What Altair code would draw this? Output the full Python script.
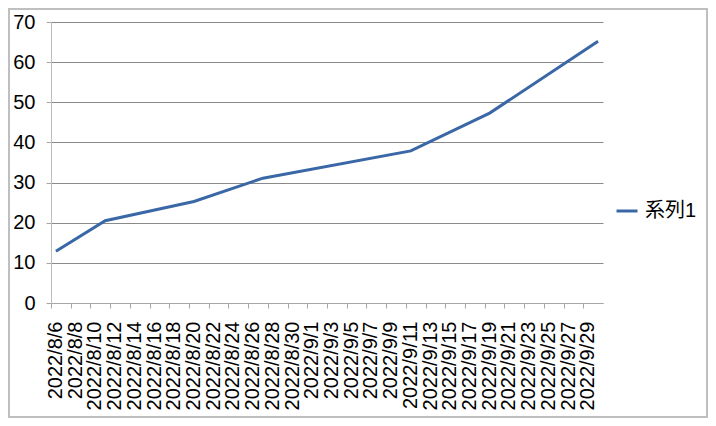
import altair as alt
import pandas as pd

# ---- data ----
dates = ["2022-08-06", "2022-08-11", "2022-08-20", "2022-08-27",
         "2022-09-11", "2022-09-19", "2022-09-30"]
values = [12.9, 20.5, 25.3, 31.1, 37.9, 47.3, 65.2]
series_name = "系列1"

tick_dates = ["2022-08-06", "2022-08-08", "2022-08-10", "2022-08-12", "2022-08-14",
              "2022-08-16", "2022-08-18", "2022-08-20", "2022-08-22", "2022-08-24",
              "2022-08-26", "2022-08-28", "2022-08-30", "2022-09-01", "2022-09-03",
              "2022-09-05", "2022-09-07", "2022-09-09", "2022-09-11", "2022-09-13",
              "2022-09-15", "2022-09-17", "2022-09-19", "2022-09-21", "2022-09-23",
              "2022-09-25", "2022-09-27", "2022-09-29"]
axis_range = ["2022-08-06", "2022-10-01"]
y_ticks = [0, 10, 20, 30, 40, 50, 60, 70]


def to_dt(s):
    y, m, d = (int(p) for p in s.split("-"))
    return alt.DateTime(year=y, month=m, date=d)


df = pd.DataFrame({
    "date": [d + "T12:00:00" for d in dates],  # centre of each day slot
    "value": values,
    "series": [series_name] * len(values),
})

FONT = "Liberation Sans"
W, H = 552, 281
PAD = {"left": 43, "top": 14, "right": 105, "bottom": 115}

line = alt.Chart(df).mark_line(strokeWidth=3).encode(
    x=alt.X(
        "date:T",
        title=None,
        scale=alt.Scale(type="time", domain=[to_dt(s) for s in axis_range], nice=False),
        axis=alt.Axis(
            values=[to_dt(s) for s in tick_dates],
            format="%Y/%-m/%-d",
            labelAngle=270,
            labelAlign="right",
            labelBaseline="middle",
            labelOffset=4.5,
            labelPadding=13,
            labelFlush=False,
            labelOverlap=False,
            labelBound=False,
            labelFont=FONT,
            labelFontSize=20,
            labelColor="#000000",
            tickSize=5,
            tickColor="#a6a6a6",
            domainColor="#a6a6a6",
            grid=False,
        ),
    ),
    y=alt.Y(
        "value:Q",
        title=None,
        scale=alt.Scale(domain=[0, 70], nice=False),
        axis=alt.Axis(
            values=y_ticks,
            labelPadding=11,
            labelFont=FONT,
            labelFontSize=20,
            labelColor="#000000",
            tickSize=5,
            tickColor="#a6a6a6",
            domainColor="#bdbdbd",
            grid=True,
            gridColor="#8a8a8a",
            gridWidth=1,
        ),
    ),
    color=alt.Color(
        "series:N",
        scale=alt.Scale(range=["#3a67a6"]),
        legend=alt.Legend(
            title=None,
            orient="none",
            legendX=564,
            legendY=177,
            symbolType="stroke",
            symbolStrokeWidth=3,
            symbolSize=441,
            labelFont=FONT + ", Noto Sans CJK JP",
            labelFontSize=20,
            labelColor="#000000",
            labelOffset=6,
            padding=0,
            symbolOffset=0,
        ),
    ),
)

border = alt.Chart(alt.Data(values=[{}])).mark_rect(
    fillOpacity=0, stroke="#bfbfbf", strokeWidth=2
).encode(
    x=alt.value(-PAD["left"] + 1),
    x2=alt.value(W + PAD["right"] - 1),
    y=alt.value(-PAD["top"] + 1),
    y2=alt.value(H + PAD["bottom"] - 1),
)

chart = alt.layer(line, border).properties(
    width=W,
    height=H,
    padding=PAD,
    autosize=alt.AutoSizeParams(type="none"),
    background="#ffffff",
).configure_view(strokeWidth=0)

chart.save("out.html", embed_options={"renderer": "svg", "actions": False})
